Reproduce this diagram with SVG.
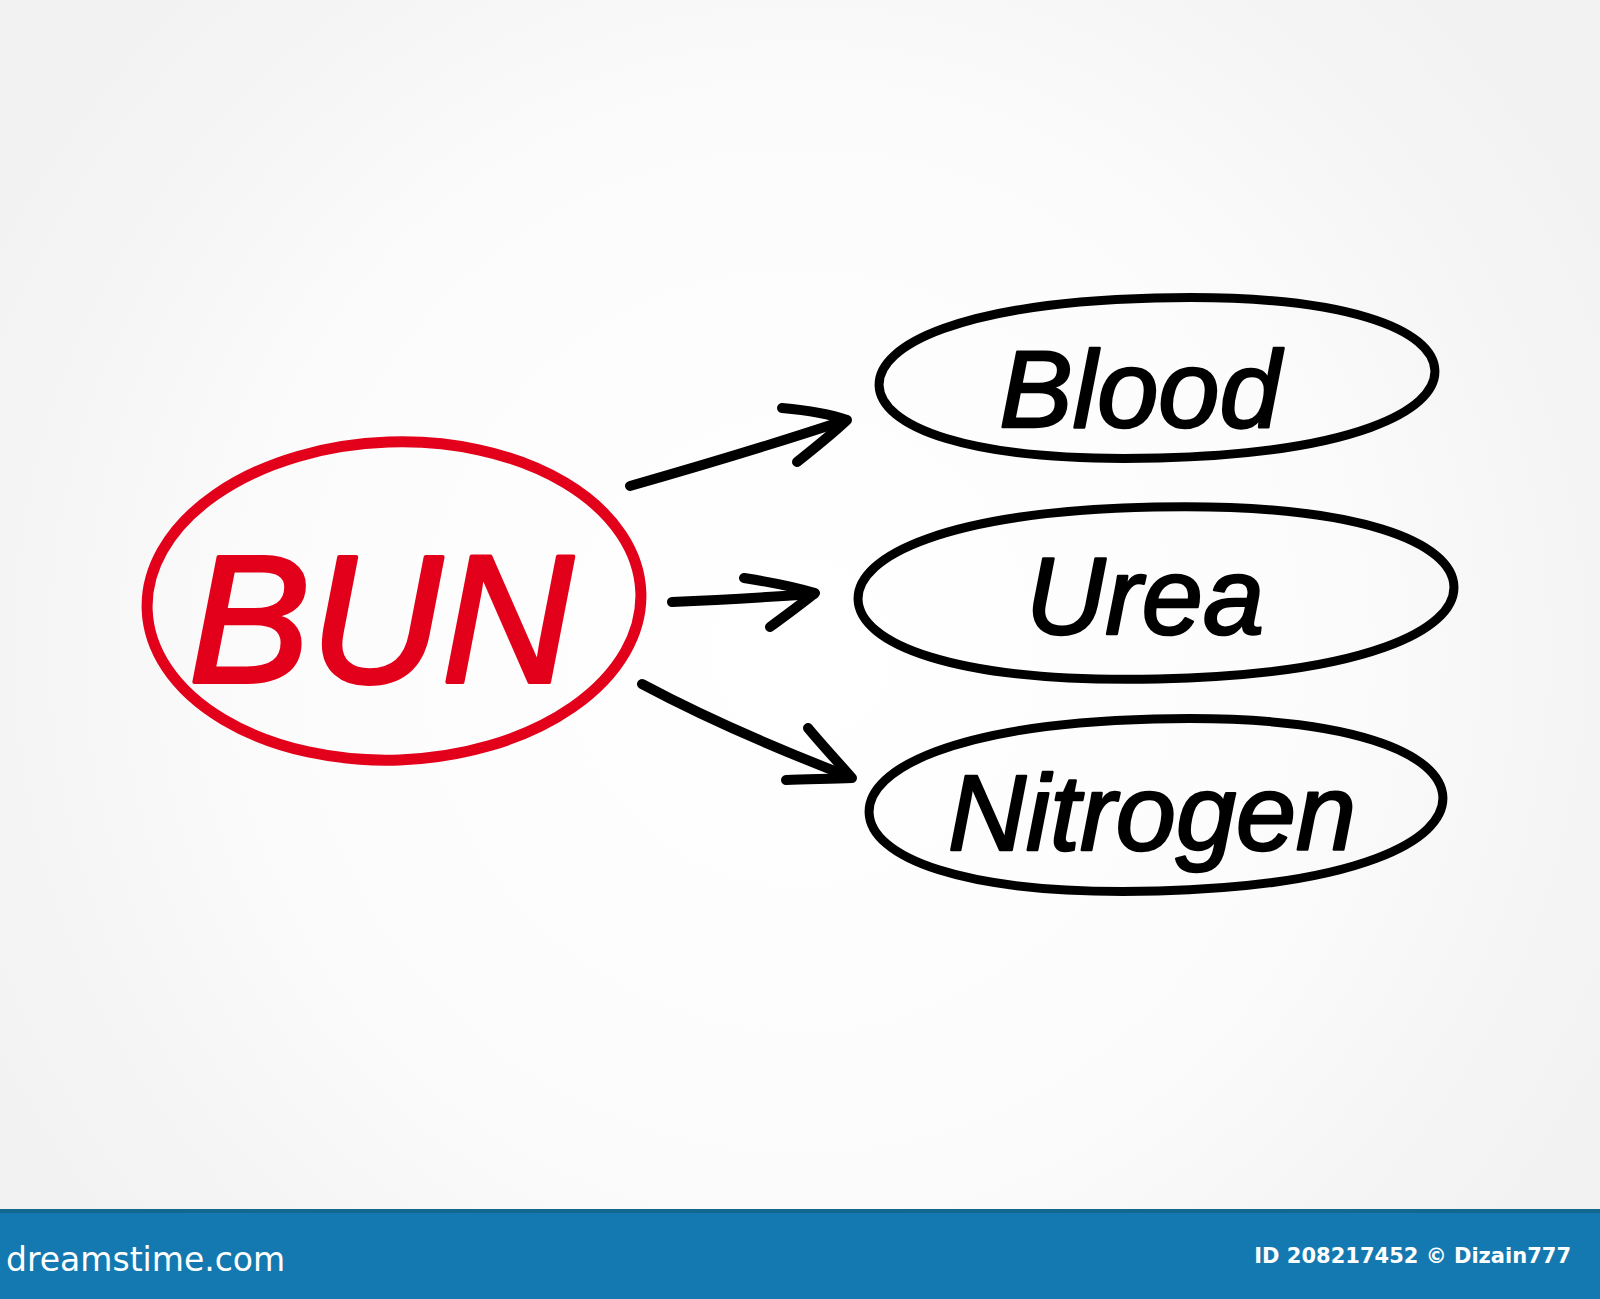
<svg xmlns="http://www.w3.org/2000/svg" width="1600" height="1299" viewBox="0 0 1600 1299">
  <defs>
    <radialGradient id="bg" cx="800" cy="650" r="900" gradientUnits="userSpaceOnUse">
      <stop offset="0" stop-color="#ffffff"/>
      <stop offset="0.55" stop-color="#fcfcfc"/>
      <stop offset="1" stop-color="#f2f2f2"/>
    </radialGradient>
    <style>
      .hand { font-family: "Liberation Sans", Arial, sans-serif; font-style: italic; text-anchor: middle; stroke-linejoin: round; }
      .node { fill: none; stroke: #000; stroke-width: 9; }
      .red { fill: none; stroke: #e2001a; stroke-width: 11; }
      .arrow { fill: none; stroke: #000; stroke-width: 10; stroke-linecap: round; stroke-linejoin: round; }
      .foot { font-family: "DejaVu Sans", "Liberation Sans", sans-serif; fill: #ffffff; }
    </style>
  </defs>

  <rect x="0" y="0" width="1600" height="1209" fill="url(#bg)"/>

  <g id="node-bun">
    <ellipse class="red" cx="394" cy="601" rx="247" ry="159" transform="rotate(-2 394 601)"/>
    <text class="hand" x="381" y="682" font-size="182" fill="#e2001a" stroke="#e2001a" stroke-width="4">BUN</text>
  </g>

  <g id="node-blood">
    <path class="node" transform="rotate(-1.5 1157 378)" d="M 879 378 C 879 338 962 298 1157 298 C 1352 298 1435 338 1435 378 C 1435 418 1352 458 1157 458 C 962 458 879 418 879 378 Z"/>
    <text class="hand" x="1140" y="427" font-size="110" fill="#000" stroke="#000" stroke-width="2.5">Blood</text>
  </g>

  <g id="node-urea">
    <path class="node" transform="rotate(-1.2 1156 593)" d="M 858 593 C 858 550 947 507 1156 507 C 1365 507 1454 550 1454 593 C 1454 636 1365 679 1156 679 C 947 679 858 636 858 593 Z"/>
    <text class="hand" x="1145" y="634" font-size="110" fill="#000" stroke="#000" stroke-width="2.5">Urea</text>
  </g>

  <g id="node-nitrogen">
    <path class="node" transform="rotate(-1.5 1156 805)" d="M 869 805 C 869 762 955 719 1156 719 C 1357 719 1443 762 1443 805 C 1443 848 1357 891 1156 891 C 955 891 869 848 869 805 Z"/>
    <text class="hand" x="1152" y="850" font-size="108" fill="#000" stroke="#000" stroke-width="2.5">Nitrogen</text>
  </g>

  <g id="connectors">
    <path class="arrow" d="M 630 486 C 700 466 780 442 846 420"/>
    <path class="arrow" d="M 782 408 C 805 410 830 414 847 420 C 830 436 812 450 797 462"/>
    <path class="arrow" d="M 672 602 C 720 600 770 597 814 594"/>
    <path class="arrow" d="M 744 578 C 770 582 795 587 815 593 C 800 605 785 616 770 627"/>
    <path class="arrow" d="M 642 684 C 700 715 780 750 850 777"/>
    <path class="arrow" d="M 808 728 C 822 745 838 762 852 778 C 830 779 808 779 786 780"/>
  </g>

  <g id="footer">
    <rect x="0" y="1209" width="1600" height="90" fill="#1479b0"/>
    <rect x="0" y="1209" width="1600" height="4" fill="#11698f"/>
    <text class="foot" x="6" y="1271" font-size="33">dreamstime.com</text>
    <text class="foot" x="1571" y="1263" font-size="21" font-weight="bold" text-anchor="end">ID 208217452 © Dizain777</text>
  </g>
</svg>
